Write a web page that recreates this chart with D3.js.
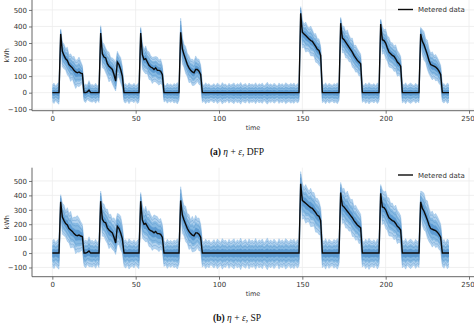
<!DOCTYPE html>
<html><head><meta charset="utf-8">
<script src="https://cdn.jsdelivr.net/npm/d3@7"></script>
<style>
html,body{margin:0;padding:0;background:#fff;}
svg{display:block;}
.tick text{font-family:"DejaVu Sans",sans-serif;font-size:7px;fill:#333;}
</style></head>
<body>
<svg id="c" width="474" height="323"></svg>
<script>
// ---- data ----
const xTicks = [0, 50, 100, 150, 200, 250];
const yTicks = [-100, 0, 100, 200, 300, 400, 500];
const legendLabel = "Metered data";
const xLabel = "time";
const yLabel = "kWh";

// hourly metered consumption, t = 0..238
const metered = [
  0,0,0,0,0,355,250,225,205,195,170,160,150,135,125,120,125,118,115,0,0,5,15,0,
  0,0,0,0,0,360,235,215,210,175,160,150,140,110,70,185,170,140,100,0,0,0,0,0,
  0,0,0,0,0,360,230,200,205,185,165,155,150,140,150,135,135,130,110,0,0,0,0,0,
  0,0,0,0,0,365,265,230,200,170,150,135,125,120,140,140,130,110,0,0,0,0,0,0,
  0,0,0,0,0,0,0,0,0,0,0,0,0,0,0,0,0,0,0,0,0,0,0,0,
  0,0,0,0,0,0,0,0,0,0,0,0,0,0,0,0,0,0,0,0,0,0,0,0,
  0,0,0,0,0,480,365,355,345,335,325,315,310,295,280,262,255,225,0,0,0,0,0,0,
  0,0,0,0,0,420,330,320,305,290,275,260,245,225,210,195,185,175,0,0,0,0,0,0,
  0,0,0,0,0,415,320,315,300,270,245,235,225,220,205,185,175,160,0,0,0,0,0,0,
  0,0,0,0,0,355,310,290,260,230,195,170,165,160,155,145,130,110,0,0,0,0,0
];

// (a) DFP: spread of the eta+eps ensemble above / below the metered line
const dfpUp = [
  48,58,40,55,62, 30,55,70,62,80,58,75,66,85,70,78,90,72,50, 45,52,40,58,47,
  50,44,57,41,53, 45,68,80,60,75,85,62,70,90,110,65,58,72,60, 48,55,42,60,50,
  46,57,43,52,60, 35,72,60,78,66,82,70,64,76,68,80,62,74,55, 50,42,58,47,53,
  44,56,49,61,40, 85,70,62,80,68,74,66,78,70,82,64,72,58, 52,45,60,48,55,43,
  47,55,42,58,50,44,61,49,53,40,57,46,52,59,43,55,48,62,45,51,56,41,58,49,
  53,46,60,44,55,49,58,42,51,63,47,54,45,57,50,41,59,48,55,44,60,52,46,57,
  50,58,44,55,47, 40,75,60,82,70,65,88,72,60,78,66,70,55, 54,46,60,43,57,50,
  45,56,49,60,42, 35,70,82,64,90,75,68,85,60,78,72,65,58, 52,44,58,47,61,50,
  48,55,43,59,46, 30,80,65,85,72,90,68,76,62,84,70,66,60, 55,47,60,44,52,58,
  50,43,57,46,54, 40,72,80,66,88,74,70,82,64,76,68,62,55, 48,56,42,58,50
];
const dfpLo = [
  55,66,48,62,70, 40,95,80,70,88,75,92,68,84,100,78,90,72,60, 52,60,47,65,55,
  58,50,64,46,60, 50,85,70,90,78,95,72,88,80,60,95,76,82,70, 56,63,49,67,52,
  53,61,47,66,58, 45,88,75,92,70,85,78,95,72,86,80,90,74,65, 57,49,64,52,60,
  51,63,56,68,47, 40,92,78,85,74,90,70,82,76,88,72,80,66, 60,52,67,55,62,49,
  54,62,49,66,57,51,69,56,60,47,64,53,59,67,50,62,55,70,52,58,63,48,65,56,
  60,53,67,51,62,56,65,49,58,70,54,61,52,64,57,48,66,55,62,51,67,59,53,64,
  57,65,51,62,54, 60,95,80,100,85,78,92,88,75,96,82,90,70, 61,53,67,50,64,57,
  52,63,56,67,49, 55,90,78,96,82,88,75,92,80,86,70,85,72, 59,51,65,54,68,57,
  55,62,50,66,53, 50,88,76,95,80,90,84,78,92,74,86,70,68, 62,54,67,51,59,65,
  57,50,64,53,61, 52,86,94,78,90,82,76,88,72,84,70,75,66, 55,63,49,65,57
];

// (b) SP
const spUp = [
  85,96,74,90,100, 50,95,110,88,120,105,130,92,115,125,140,118,100,85, 80,92,75,98,84,
  88,76,95,72,90, 70,110,125,95,130,105,120,98,135,150,90,100,115,92, 82,94,73,99,86,
  79,93,71,88,97, 60,105,92,120,100,130,112,95,125,108,118,96,110,90, 84,72,96,78,89,
  76,91,83,99,70, 95,110,100,125,105,118,96,130,108,122,100,114,92, 88,75,97,80,92,71,
  80,94,72,98,85,75,101,83,90,69,96,78,88,100,73,93,81,104,76,87,95,70,99,82,
  90,78,102,74,93,83,98,71,86,105,79,92,76,97,84,70,100,81,93,75,101,88,77,96,
  85,98,74,94,80, 85,120,100,130,115,105,135,110,125,100,118,105,90, 92,78,101,73,96,84,
  77,95,83,101,72, 70,115,130,105,140,120,110,128,100,122,112,105,95, 88,75,98,80,103,85,
  82,93,73,99,79, 60,120,108,130,115,138,110,122,100,128,112,106,98, 93,80,101,75,88,97,
  85,73,96,78,91, 75,115,125,108,132,118,112,126,104,120,110,100,92, 81,95,71,98,84
];
const spLo = [
  95,108,82,102,112, 60,120,105,95,115,100,125,110,98,130,112,120,105,92, 90,103,85,110,94,
  98,86,106,80,101, 70,118,100,125,108,130,105,115,95,80,128,110,118,100, 92,105,83,111,96,
  89,104,80,99,108, 60,125,110,128,105,120,115,132,108,122,112,126,104,95, 94,82,107,88,100,
  86,102,93,110,80, 55,128,112,122,105,126,100,118,110,124,102,115,96, 98,85,108,90,103,81,
  90,105,82,109,95,85,112,93,100,79,107,88,98,111,83,104,91,115,86,97,106,80,110,92,
  100,88,113,84,104,93,109,81,96,116,89,103,86,108,94,80,111,91,104,85,112,98,87,107,
  95,109,84,105,90, 80,130,115,138,120,110,132,125,108,135,118,128,100, 102,88,112,83,107,94,
  87,106,93,112,82, 75,125,110,132,118,124,106,130,112,122,100,120,104, 98,85,109,90,114,95,
  92,104,83,110,89, 65,122,108,130,114,126,118,110,128,104,120,100,96, 103,90,112,85,98,108,
  95,83,107,88,101, 70,120,130,112,126,116,108,124,102,118,100,106,94, 91,106,81,109,94
];

// ---- drawing ----
const svg = d3.select("#c");
const x = d3.scaleLinear().domain([-12.2, 253.6]).range([32, 475]);

function panel(cfg) {
  const y = d3.scaleLinear().domain(cfg.yDomain).range(cfg.yRange);
  const g = svg.append("g");
  const top = cfg.yRange[1], bot = cfg.yRange[0];
  // grid
  g.append("g").selectAll("line.h").data(yTicks).join("line")
    .attr("x1", 32).attr("x2", 475).attr("y1", d => y(d)).attr("y2", d => y(d))
    .attr("stroke", "#ececec").attr("stroke-width", 0.8);
  g.append("g").selectAll("line.v").data(xTicks).join("line")
    .attr("x1", d => x(d)).attr("x2", d => x(d)).attr("y1", top).attr("y2", bot)
    .attr("stroke", "#ececec").attr("stroke-width", 0.8);

  const data = metered.map((v, i) => ({t: i, v, up: cfg.up[i], lo: cfg.lo[i]}));
  const layers = [
    {k: 1.0, fill: "#b2d2ee"},
    {k: 0.65, fill: "#86b9e2"},
    {k: 0.3, fill: "#5d9bd2"}
  ];
  layers.forEach(L => {
    g.append("path").datum(data)
      .attr("d", d3.area().x(d => x(d.t)).y0(d => y(d.v - d.lo * L.k)).y1(d => y(d.v + d.up * L.k)))
      .attr("fill", L.fill);
  });
  // envelope strokes for texture
  [1.0, 0.8, 0.5].forEach((k, j) => {
    g.append("path").datum(data)
      .attr("d", d3.line().x(d => x(d.t)).y(d => y(d.v + d.up * k)))
      .attr("fill", "none").attr("stroke", j ? "#4f8fc9" : "#7fb3df").attr("stroke-width", 0.5).attr("opacity", 0.7);
    g.append("path").datum(data)
      .attr("d", d3.line().x(d => x(d.t)).y(d => y(d.v - d.lo * k)))
      .attr("fill", "none").attr("stroke", j ? "#4f8fc9" : "#7fb3df").attr("stroke-width", 0.5).attr("opacity", 0.7);
  });
  // metered line
  g.append("path").datum(data)
    .attr("d", d3.line().x(d => x(d.t)).y(d => y(d.v)))
    .attr("fill", "none").attr("stroke", "#0b0b0b").attr("stroke-width", 1.4);

  // axes
  const xa = g.append("g").attr("transform", `translate(0,${bot})`)
    .call(d3.axisBottom(x).tickValues(xTicks).tickSize(3).tickPadding(2).tickFormat(d3.format("d")));
  const ya = g.append("g").attr("transform", `translate(32,0)`)
    .call(d3.axisLeft(y).tickValues(yTicks).tickSize(3).tickPadding(2).tickFormat(d => d < 0 ? "\u2212" + Math.abs(d) : d));
  [xa, ya].forEach(a => {
    a.select(".domain").attr("stroke", "#555").attr("stroke-width", 0.9);
    a.selectAll(".tick line").attr("stroke", "#555").attr("stroke-width", 0.8);
  });
  ya.select(".domain").attr("d", `M0,${top}V${bot}`);
  xa.select(".domain").attr("d", `M32,0H475`);
  // last tick label sits at the right edge: keep it inside the window
  xa.selectAll(".tick text").filter(d => d === 250).attr("dx", -1.5);

  g.append("text").attr("x", 253).attr("y", bot + 19.5).attr("text-anchor", "middle")
    .attr("font-family", "DejaVu Sans").attr("font-size", 6.5).attr("fill", "#333").text(xLabel);
  g.append("text").attr("transform", `translate(9,${(top + bot) / 2}) rotate(-90)`).attr("text-anchor", "middle")
    .attr("font-family", "DejaVu Sans").attr("font-size", 6.5).attr("fill", "#333").text(yLabel);

  // legend
  g.append("line").attr("x1", 398).attr("x2", 413).attr("y1", cfg.legY).attr("y2", cfg.legY)
    .attr("stroke", "#0b0b0b").attr("stroke-width", 1.4);
  g.append("text").attr("x", 418).attr("y", cfg.legY + 2.5)
    .attr("font-family", "DejaVu Sans").attr("font-size", 7).attr("fill", "#333").text(legendLabel);

  // caption
  const cap = svg.append("text").attr("x", 237).attr("y", cfg.capY).attr("text-anchor", "middle")
    .attr("font-family", "Liberation Serif, serif").attr("font-size", 9.5).attr("fill", "#111");
  cap.append("tspan").attr("font-weight", "bold").text(cfg.capTag);
  cap.append("tspan").text(" ");
  cap.append("tspan").attr("font-style", "italic").text("\u03b7");
  cap.append("tspan").text(" + ");
  cap.append("tspan").attr("font-style", "italic").text("\u03b5");
  cap.append("tspan").text(", " + cfg.capName);
}

panel({yDomain: [-109, 560], yRange: [110.7, 0], up: dfpUp, lo: dfpLo, legY: 9.5,
       capY: 155, capTag: "(a)", capName: "DFP"});
panel({yDomain: [-164, 592], yRange: [276.7, 167.7], up: spUp, lo: spLo, legY: 175,
       capY: 321, capTag: "(b)", capName: "SP"});
</script>
</body></html>
